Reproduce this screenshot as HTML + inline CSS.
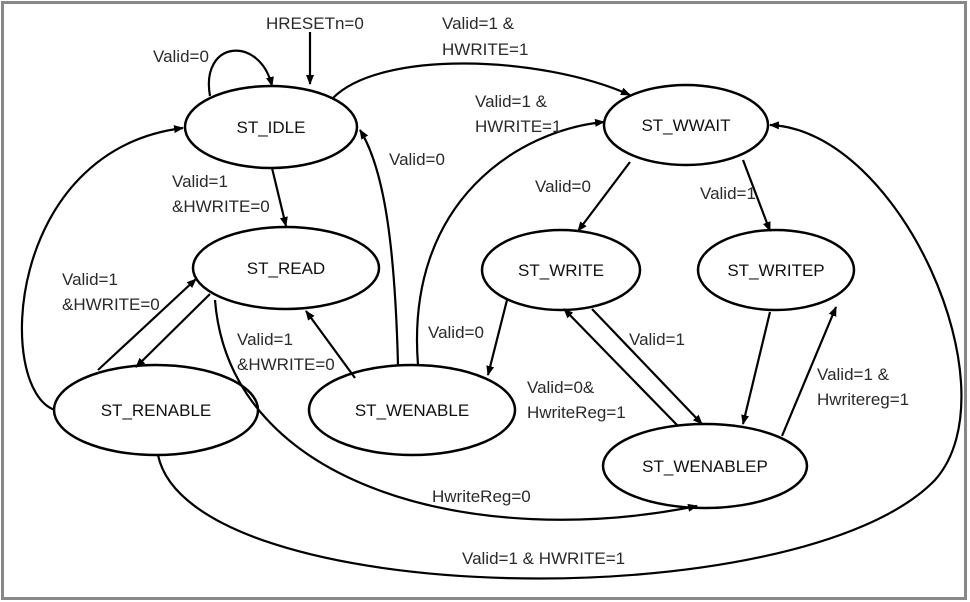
<!DOCTYPE html>
<html><head><meta charset="utf-8"><style>
html,body{margin:0;padding:0;background:#fff;}
svg{display:block;}
text{font-family:"Liberation Sans",sans-serif;font-size:17px;fill:#2a2a2a;}
.n{font-size:17px;fill:#111;}
</style></head><body>
<svg width="970" height="602" viewBox="0 0 970 602" xmlns="http://www.w3.org/2000/svg">
<defs><marker id="a" markerWidth="10" markerHeight="10" refX="9" refY="5" orient="auto" markerUnits="userSpaceOnUse"><path d="M0,1 L10,5 L0,9 Z" fill="#000"/></marker></defs>
<rect x="2.5" y="2.5" width="963" height="596" fill="#fff" stroke="#888" stroke-width="3"/>
<g fill="#fff" stroke="#000" stroke-width="2.5">
<ellipse cx="271" cy="127" rx="86" ry="41"/>
<ellipse cx="286" cy="268" rx="93" ry="41"/>
<ellipse cx="686" cy="125" rx="82" ry="40"/>
<ellipse cx="561" cy="270" rx="79" ry="40"/>
<ellipse cx="776" cy="270" rx="78" ry="40"/>
<ellipse cx="156" cy="410" rx="102" ry="45"/>
<ellipse cx="412" cy="410" rx="103" ry="45"/>
<ellipse cx="705" cy="466" rx="102" ry="42"/>
</g>
<g text-anchor="middle">
<text class="n" x="271" y="133">ST_IDLE</text>
<text class="n" x="286" y="274">ST_READ</text>
<text class="n" x="686" y="131">ST_WWAIT</text>
<text class="n" x="561" y="276">ST_WRITE</text>
<text class="n" x="776" y="276">ST_WRITEP</text>
<text class="n" x="156" y="416">ST_RENABLE</text>
<text class="n" x="412" y="416">ST_WENABLE</text>
<text class="n" x="705" y="472">ST_WENABLEP</text>
</g>
<g fill="none" stroke="#000" stroke-width="2.2" marker-end="url(#a)">
<path d="M210,96 C200,40 260,35 272,86"/>
<path d="M310,32 L310,84"/>
<path d="M333,98 C380,50 540,55 630,95"/>
<path d="M272,168 L286,226"/>
<path d="M398,365 C395,250 385,170 360,130"/>
<path d="M418,365 C405,200 520,130 604,122"/>
<path d="M630,162 L578,231"/>
<path d="M743,160 L770,231"/>
<path d="M507,300 L488,375"/>
<path d="M592,309 L702,424"/>
<path d="M678,426 L564,309"/>
<path d="M770,312 L743,424"/>
<path d="M782,436 L836,307"/>
<path d="M215,300 C230,490 480,550 697,506"/>
<path d="M55,410 C-5,390 5,150 183,128"/>
<path d="M98,370 L196,279"/>
<path d="M210,294 L136,367"/>
<path d="M355,378 L306,311"/>
<path d="M158,455 C190,610 800,620 935,480 C1015,390 900,130 770,125"/>
</g>
<text x="266" y="29">HRESETn=0</text>
<text x="153" y="62">Valid=0</text>
<text x="442" y="29">Valid=1 &amp;</text>
<text x="442" y="55">HWRITE=1</text>
<text x="475" y="107">Valid=1 &amp;</text>
<text x="475" y="132">HWRITE=1</text>
<text x="389" y="165">Valid=0</text>
<text x="172" y="187">Valid=1</text>
<text x="172" y="212">&amp;HWRITE=0</text>
<text x="535" y="192">Valid=0</text>
<text x="700" y="199">Valid=1</text>
<text x="62" y="285">Valid=1</text>
<text x="62" y="310">&amp;HWRITE=0</text>
<text x="237" y="345">Valid=1</text>
<text x="237" y="370">&amp;HWRITE=0</text>
<text x="428" y="338">Valid=0</text>
<text x="629" y="345">Valid=1</text>
<text x="527" y="393">Valid=0&amp;</text>
<text x="527" y="418">HwriteReg=1</text>
<text x="817" y="380">Valid=1 &amp;</text>
<text x="817" y="405">Hwritereg=1</text>
<text x="432" y="502">HwriteReg=0</text>
<text x="462" y="564">Valid=1 &amp; HWRITE=1</text>
</svg>
</body></html>
